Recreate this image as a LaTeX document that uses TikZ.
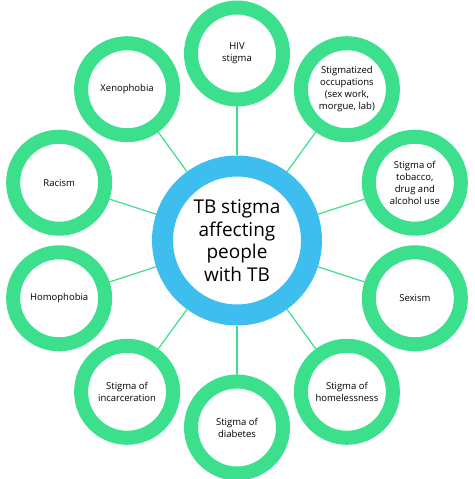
\documentclass[tikz,border=0pt]{standalone}
\usepackage{fontspec}
\setmainfont{Open Sans}
\definecolor{ringgreen}{RGB}{60,224,140}
\definecolor{hubblue}{RGB}{62,190,238}

\begin{document}
\begin{tikzpicture}[x=1pt,y=1pt]
    \tikzset{stigma ring/.style={circle, draw=ringgreen, line width=14pt,
            fill=white, minimum size=92pt, inner sep=0pt, align=center,
            font=\fontsize{9.5}{12}\selectfont},
        hub ring/.style={circle, draw=hubblue, line width=21pt,
            fill=white, minimum size=149pt, inner sep=0pt, align=center,
            font=\fontsize{19}{22.5}\selectfont},
        spoke/.style={draw=ringgreen, line width=1.2pt}}
    \useasboundingbox (-237,-238.5) rectangle (237,240.5);
    \node[hub ring] (hub) at (0,0) {TB stigma\\affecting\\people\\with TB};
    \node[stigma ring] (hiv) at (90:187) {HIV\\stigma};
    \node[stigma ring] (occup) at (54:187)
        {Stigmatized\\occupations\\(sex work,\\morgue, lab)};
    \node[stigma ring] (tobacco) at (18:187)
        {Stigma of\\tobacco,\\drug and\\alcohol use};
    \node[stigma ring] (sexism) at (-18:187) {Sexism};
    \node[stigma ring] (homeless) at (-54:187) {Stigma of\\homelessness};
    \node[stigma ring] (diabetes) at (-90:187) {Stigma of\\diabetes};
    \node[stigma ring] (incarc) at (-126:187) {Stigma of\\incarceration};
    \node[stigma ring] (homoph) at (-162:187) {Homophobia};
    \node[stigma ring] (racism) at (162:187) {Racism};
    \node[stigma ring] (xeno) at (126:187) {Xenophobia};
    \foreach \n in {hiv,occup,tobacco,sexism,homeless,diabetes,incarc,homoph,racism,xeno}
        \draw[spoke] (hub) -- (\n);
\end{tikzpicture}
\end{document}
